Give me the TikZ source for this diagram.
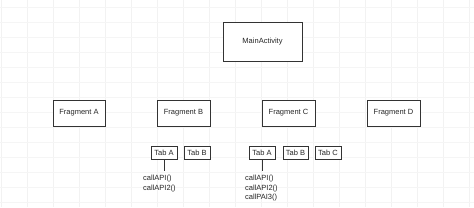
\documentclass[tikz,border=0pt]{standalone}
\usepackage{fontspec}
\setmainfont{Liberation Sans}
\begin{document}
\begin{tikzpicture}[x=1pt,y=-1pt,
  box/.style={draw=black!80,line width=0.6pt,fill=white,inner sep=0pt,font=\fontsize{7.5}{8}\selectfont,text=black!85},
  calltext/.style={anchor=north west,inner sep=0pt,align=left,font=\fontsize{7.5}{9.6}\selectfont,text=black!85}]
\useasboundingbox (0,0) rectangle (474,207);
\fill[white] (0,0) rectangle (474,207);
\foreach \x in {1,27,...,474} \draw[black!5,line width=0.5pt] (\x,0) -- (\x,207);
\foreach \y in {7,22,...,207} \draw[black!4,line width=0.4pt] (0,\y) -- (474,\y);
\node[box,minimum width=79pt,minimum height=39pt] (main) at (262.5,41.5) {MainActivity};
\node[box,minimum width=52pt,minimum height=26pt] (fa) at (79,113) {Fragment A};
\node[box,minimum width=53pt,minimum height=26pt] (fb) at (183.5,113) {Fragment B};
\node[box,minimum width=53pt,minimum height=26pt] (fc) at (288.5,113) {Fragment C};
\node[box,minimum width=53pt,minimum height=26pt] (fd) at (393.5,113) {Fragment D};
\node[box,minimum width=26pt,minimum height=13pt] (bta) at (164,152.5) {Tab A};
\node[box,minimum width=26pt,minimum height=13pt] (btb) at (197,152.5) {Tab B};
\node[box,minimum width=26pt,minimum height=13pt] (cta) at (262,152.5) {Tab A};
\node[box,minimum width=25pt,minimum height=13pt] (ctb) at (295.5,152.5) {Tab B};
\node[box,minimum width=26pt,minimum height=13pt] (ctc) at (328,152.5) {Tab C};
\coordinate (bend) at (164,171);
\coordinate (cend) at (262,171);
\draw[black!80,line width=0.6pt] (bta.south) -- (bend);
\draw[black!80,line width=0.6pt] (cta.south) -- (cend);
\node[calltext] (bcalls) at (143,175) {callAPI()\\callAPI2()};
\node[calltext] (ccalls) at (245,175) {callAPI()\\callAPI2()\\callPAI3()};
\end{tikzpicture}
\end{document}
